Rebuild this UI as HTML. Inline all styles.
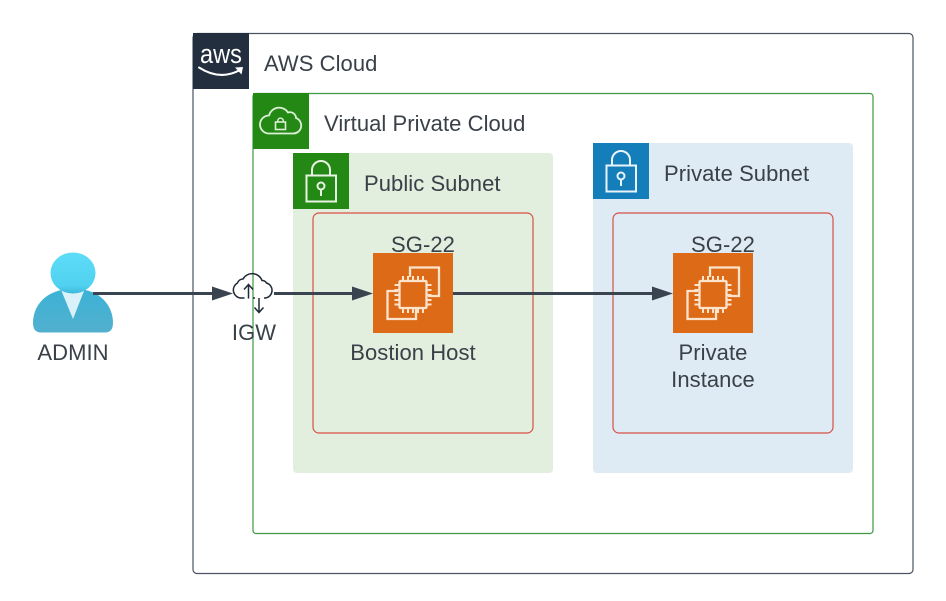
<!DOCTYPE html>
<html>
<head>
<meta charset="utf-8">
<style>
html,body{margin:0;padding:0;background:#fff;}
svg{display:block;}
text{font-family:"Liberation Sans",Arial,sans-serif;font-size:22px;letter-spacing:.06px;fill:#3a4048;}
</style>
</head>
<body>
<svg width="946" height="601" viewBox="0 0 946 601" xmlns="http://www.w3.org/2000/svg">
<defs>
  <linearGradient id="body" x1="0" y1="0" x2="0" y2="1">
    <stop offset="0" stop-color="#3cb2d6"/><stop offset="1" stop-color="#52b0cf"/>
  </linearGradient>
  <linearGradient id="head" x1="0" y1="0" x2="0" y2="1">
    <stop offset="0" stop-color="#5ddcf7"/><stop offset=".8" stop-color="#50d2f0"/><stop offset="1" stop-color="#3fb8da"/>
  </linearGradient>
  <g id="lock" fill="none" stroke-width="2">
    <rect x="13.500" y="22.500" width="29.500" height="26"/>
    <path d="M19 22.500V17a9 9 0 0 1 18 0V22.500"/>
    <circle cx="28" cy="33" r="3.500"/>
    <path d="M28 36.500V43"/>
  </g>
  <g id="chip">
    <rect width="80" height="80" fill="#dc6a17"/>
    <g fill="none" stroke="#fbe3cc" stroke-width="2.300">
      <path d="M37 24V14.500H66V43H55"/>
      <path d="M25 38H14.500V66H43V56"/>
      <rect x="26.500" y="28" width="27" height="27" rx="1"/>
      <path stroke-width="2" d="M30 23v5M35 23v5M40 23v5M45 23v5M50 23v5M30 55v5M35 55v5M40 55v5M45 55v5M50 55v5M21.500 32h5M21.500 37h5M21.500 42h5M21.500 47h5M21.500 51.500h5M53.500 32h5M53.500 37h5M53.500 42h5M53.500 47h5M53.500 51.500h5"/>
    </g>
  </g>
</defs>

<!-- AWS cloud -->
<rect x="193" y="33.500" width="720" height="540" rx="4" fill="#fff" stroke="#4a5360" stroke-width="1.200"/>
<rect x="193" y="33" width="56" height="56" fill="#232f3e"/>
<text x="200" y="63" textLength="42" lengthAdjust="spacingAndGlyphs" style="font-size:27px;fill:#fff">aws</text>
<path d="M199 67.500Q220 81 240 70" fill="none" stroke="#fff" stroke-width="2" stroke-linecap="round"/>
<path d="M235 67.500l8-.5-1.500 7.500z" fill="#fff"/>
<text x="264" y="71">AWS Cloud</text>

<!-- VPC -->
<rect x="253" y="93.500" width="620" height="440" rx="3" fill="#fff" stroke="#3d9a40" stroke-width="1.200"/>
<rect x="253" y="93" width="56" height="56" fill="#248814"/>
<path d="M269 133.500h24a8 8 0 0 0 3-15.500a6 6 0 0 0-8-5.500a10.500 10.500 0 0 0-19 3a9 9 0 0 0 0 18z" fill="none" stroke="#dcefd8" stroke-width="1.800"/>
<rect x="275.500" y="122" width="10" height="7.500" fill="none" stroke="#dcefd8" stroke-width="1.600"/>
<path d="M277.800 122v-1.500a2.800 2.800 0 0 1 5.500 0v1.500" fill="none" stroke="#dcefd8" stroke-width="1.400"/>
<text x="324" y="131">Virtual Private Cloud</text>

<!-- Public subnet -->
<rect x="293" y="153" width="260" height="320" rx="4" fill="#e2eede"/>
<rect x="293" y="153" width="56" height="56" fill="#248814"/>
<use href="#lock" x="293" y="153" stroke="#e8f3e3"/>
<text x="364" y="191">Public Subnet</text>

<!-- Private subnet -->
<rect x="593" y="143" width="260" height="330" rx="4" fill="#dfebf4"/>
<rect x="593" y="143" width="56" height="56" fill="#147eba"/>
<use href="#lock" x="593" y="143" stroke="#e8f3fa"/>
<text x="664" y="181">Private Subnet</text>

<!-- Security groups -->
<rect x="313" y="213" width="220" height="220" rx="6" fill="none" stroke="#d85045" stroke-width="1.200"/>
<rect x="613" y="213" width="220" height="220" rx="6" fill="none" stroke="#d85045" stroke-width="1.200"/>

<text x="423" y="252" text-anchor="middle">SG-22</text>
<text x="723" y="252" text-anchor="middle">SG-22</text>

<use href="#chip" x="373" y="253"/>
<use href="#chip" x="673" y="253"/>

<text x="413" y="360" text-anchor="middle">Bostion Host</text>
<text x="713" y="360" text-anchor="middle">Private</text>
<text x="713" y="387" text-anchor="middle">Instance</text>

<!-- Admin -->
<path d="M33 323C33 306 45 293 62 290H85C101 293 113 306 113 323Q113 332.500 105 332.500H41Q33 332.500 33 323Z" fill="url(#body)"/>
<path d="M61.500 291L73 319L84 291Z" fill="#d9f1f8"/>
<ellipse cx="73" cy="273" rx="22.500" ry="20.500" fill="url(#head)"/>
<text x="73" y="360" text-anchor="middle">ADMIN</text>

<!-- IGW -->
<path d="M244.500 298H241A8 8 0 0 1 237.500 283A6 6 0 0 1 243 279A10.500 10.500 0 0 1 262 280.500A5 5 0 0 1 266.500 283A7.700 7.700 0 0 1 265.500 298H264M253 298H255" fill="none" stroke="#1f2a36" stroke-width="1.500"/>
<path d="M248.500 298.500V285M244 289.500L248.500 284.500L253 289.500" fill="none" stroke="#1f2a36" stroke-width="1.500"/>
<path d="M259 298V312M254.500 307.500L259 312.500L263.500 307.500" fill="none" stroke="#1f2a36" stroke-width="1.500"/>
<text x="254" y="340" text-anchor="middle">IGW</text>

<!-- Connectors -->
<g stroke="#3a4350" stroke-width="3" fill="none">
  <path d="M93 293.500H215"/>
  <path d="M274 293.500H355"/>
  <path d="M453 293.500H655"/>
</g>
<g fill="#3a4350">
  <path d="M212 286.500L233 293.500L212 300.500Z"/>
  <path d="M352 286.500L373 293.500L352 300.500Z"/>
  <path d="M652 286.500L673 293.500L652 300.500Z"/>
</g>
</svg>
</body>
</html>
